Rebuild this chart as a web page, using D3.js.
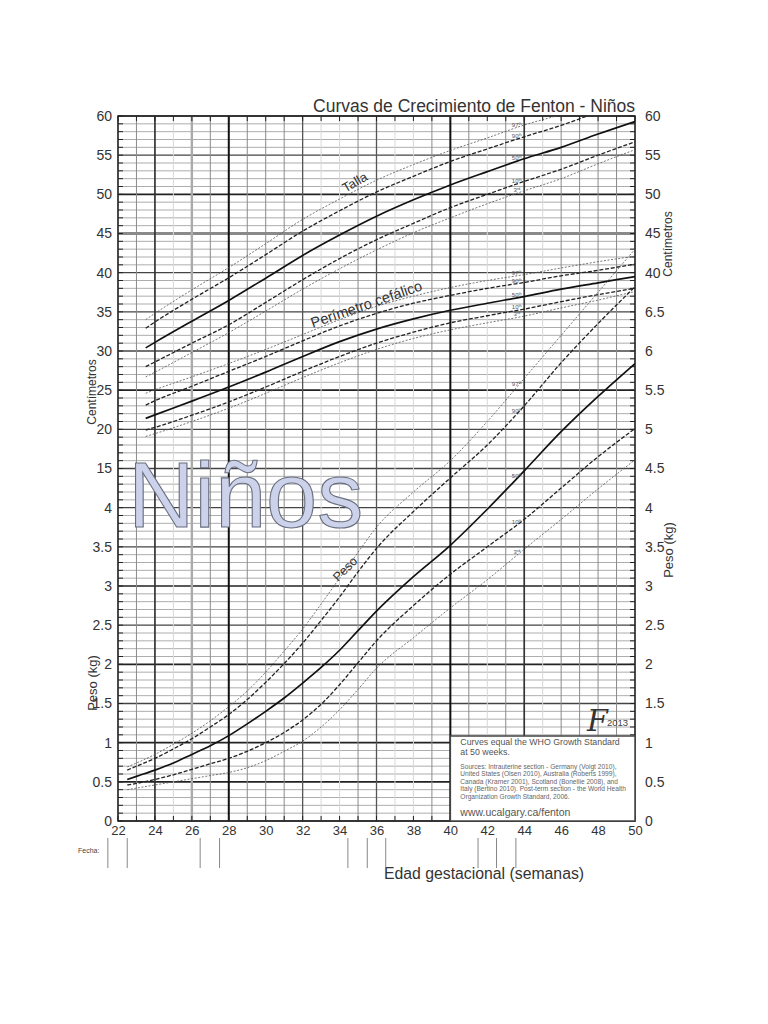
<!DOCTYPE html>
<html><head><meta charset="utf-8">
<script src="https://cdn.jsdelivr.net/npm/d3@7"></script>
<style>body{margin:0;background:#fff}svg{display:block;font-family:"Liberation Sans",Arial,sans-serif}</style>
</head><body><svg id="c" width="768" height="1024"></svg>
<script>
// ---------- DATA ----------
const weeksCm = [23.5,24,26,28,30,32,34,36,38,40,42,44,46,48,50];
const talla97 = [34.0,34.8,37.8,40.65,43.7,46.8,49.4,51.8,53.8,55.6,57.2,58.85,60.2,61.8,63.3];
const talla90 = [32.9,33.7,36.6,39.35,42.3,45.3,47.9,50.3,52.3,54.2,55.8,57.35,58.8,60.5,62.0];
const talla50 = [30.4,31.1,33.8,36.45,39.3,42.2,44.8,47.2,49.3,51.2,52.9,54.55,56.0,57.7,59.3];
const talla10 = [28.0,28.6,31.0,33.35,36.2,39.1,41.8,44.2,46.3,48.3,50.0,51.65,53.2,55.0,56.7];
const talla3  = [26.7,27.3,29.8,32.35,35.1,37.9,40.5,42.9,45.1,47.0,48.8,50.45,52.0,53.9,55.7];

const pc97 = [24.6,25.05,26.7,28.4,30.2,32.1,34.0,35.7,37.0,38.1,39.0,39.75,40.6,41.4,42.1];
const pc90 = [23.1,23.65,25.5,27.4,29.3,31.3,33.2,34.8,36.1,37.1,38.0,38.75,39.6,40.3,41.1];
const pc50 = [21.4,21.85,23.6,25.4,27.3,29.3,31.2,32.8,34.1,35.2,36.1,36.95,37.9,38.7,39.5];
const pc10 = [19.9,20.25,21.8,23.5,25.4,27.4,29.3,31.0,32.4,33.6,34.5,35.35,36.3,37.2,38.0];
const pc3  = [19.1,19.45,21.0,22.7,24.6,26.6,28.5,30.2,31.6,32.7,33.6,34.45,35.5,36.5,37.6];

const weeksKg = [22.5,23,24,25,26,27,28,29,30,31,32,33,34,35,36,38,40,42,44,46,48,50];
const peso97 = [0.69,0.74,0.85,0.98,1.12,1.28,1.46,1.66,1.90,2.17,2.45,2.77,3.10,3.43,3.75,4.20,4.60,5.10,5.65,6.20,6.75,7.30];
const peso90 = [0.65,0.70,0.80,0.92,1.05,1.20,1.36,1.55,1.77,2.01,2.27,2.56,2.86,3.18,3.48,3.95,4.38,4.80,5.30,5.85,6.35,6.82];
const peso50 = [0.53,0.57,0.65,0.74,0.85,0.96,1.09,1.24,1.40,1.57,1.76,1.96,2.18,2.43,2.68,3.12,3.52,3.98,4.47,4.97,5.42,5.84];
const peso10 = [0.46,0.48,0.53,0.59,0.66,0.73,0.80,0.89,1.00,1.13,1.29,1.49,1.74,2.02,2.30,2.75,3.15,3.50,3.85,4.25,4.65,5.01];
const peso3  = [0.40,0.42,0.46,0.50,0.54,0.58,0.62,0.68,0.77,0.89,1.02,1.20,1.42,1.68,1.95,2.34,2.72,3.08,3.47,3.85,4.24,4.61];

const percentiles = ["97","90","50","10","3"];
const xTicks = [22,24,26,28,30,32,34,36,38,40,42,44,46,48,50];
const cmTicksLeft = [60,55,50,45,40,35,30,25,20,15];
const kgTicksLeft = [4,3.5,3,2.5,2,1.5,1,0.5,0];
const cmTicksRight = [60,55,50,45,40];
const kgTicksRight = [6.5,6,5.5,5,4.5,4,3.5,3,2.5,2,1.5,1,0.5,0];
const fechaWeeks = [21.45,22.5,26.45,27.5,34.45,35.5,36.5,41.5,42.5,43.55];

// ---------- SCALES ----------
const svg = d3.select("#c");
const X0=118, X1=635, YT=116, YB=821;
const x = d3.scaleLinear().domain([22,50]).range([X0,X1]);
const yCm = d3.scaleLinear().domain([0,60]).range([586,YT]);
const yKg = d3.scaleLinear().domain([0,9]).range([YB,YT]);

svg.append("rect").attr("width",768).attr("height",1024).attr("fill","#fff");

// ---------- GRID ----------
const grid = svg.append("g");
d3.range(0,91).forEach(k=>{
  const yy = yKg(k/10);
  const major = k%5===0;
  let col = major ? "#444" : "#a4a4a4", w = major ? 1.3 : 0.9;
  if (k===75) { col="#8a8a8a"; w=3; }
  if (k===80 || k===55 || k===30 || k===20 || k===10 || k===5) { col="#222"; w=1.6; }
  grid.append("line").attr("x1",X0).attr("x2",X1).attr("y1",yy).attr("y2",yy)
    .attr("stroke",col).attr("stroke-width",w);
});
const faintWeeks=[25,33,34,37,38,42,45];
d3.range(22,51).forEach(wk=>{
  let col="#8a8a8a", w=1;
  if (faintWeeks.includes(wk)){col="#d8d8d8";}
  if (wk===28||wk===40){col="#111";w=2;}
  else if (wk===24||wk===44){col="#333";w=1.7;}
  else if (wk===26){col="#aaa";w=2.4;}
  else if (wk===36||wk===32){col="#555";w=1.3;}
  grid.append("line").attr("x1",x(wk)).attr("x2",x(wk)).attr("y1",YT).attr("y2",YB)
    .attr("stroke",col).attr("stroke-width",w);
});
// inner ticks
d3.range(0,91).forEach(k=>{
  const yy=yKg(k/10);
  grid.append("line").attr("x1",X0).attr("x2",X0+5).attr("y1",yy).attr("y2",yy).attr("stroke","#222").attr("stroke-width",1);
  grid.append("line").attr("x1",X1-5).attr("x2",X1).attr("y1",yy).attr("y2",yy).attr("stroke","#222").attr("stroke-width",1);
});
d3.range(22,51).forEach(wk=>{
  grid.append("line").attr("x1",x(wk)).attr("x2",x(wk)).attr("y1",YT).attr("y2",YT+5).attr("stroke","#222");
  grid.append("line").attr("x1",x(wk)).attr("x2",x(wk)).attr("y1",YB-5).attr("y2",YB).attr("stroke","#222");
});
svg.append("rect").attr("x",X0).attr("y",YT).attr("width",X1-X0).attr("height",YB-YT)
  .attr("fill","none").attr("stroke","#222").attr("stroke-width",1.5);

// ---------- "Niños" watermark ----------
svg.append("text").attr("x",128).attr("y",527).text("Niños")
  .attr("font-size",92).attr("fill","#cbd2ea").attr("stroke","#6a6f80").attr("stroke-width",1.1)
  .attr("font-family","Liberation Sans, Arial, sans-serif");

// ---------- CURVES ----------
svg.append("clipPath").attr("id","clip").append("rect")
  .attr("x",X0).attr("y",YT).attr("width",X1-X0).attr("height",YB-YT);
const curves = svg.append("g").attr("clip-path","url(#clip)");
const styles = {
  "97":{w:0.8,c:"#555",d:"2,1.6"},
  "90":{w:1.3,c:"#222",d:"4,1.8"},
  "50":{w:1.7,c:"#111",d:null},
  "10":{w:1.3,c:"#222",d:"4,1.8"},
  "3":{w:0.8,c:"#555",d:"2,1.6"}
};
function drawSet(weeks, sets, yS){
  sets.forEach((vals,i)=>{
    const p = percentiles[i], st=styles[p];
    const line = d3.line().x(d=>x(d[0])).y(d=>yS(d[1])).curve(d3.curveMonotoneX);
    curves.append("path").datum(weeks.map((w,j)=>[w,vals[j]]))
      .attr("d",line).attr("fill","none").attr("stroke",st.c).attr("stroke-width",st.w)
      .attr("stroke-dasharray",st.d);
  });
}
drawSet(weeksCm,[talla97,talla90,talla50,talla10,talla3],yCm);
drawSet(weeksCm,[pc97,pc90,pc50,pc10,pc3],yCm);
drawSet(weeksKg,[peso97,peso90,peso50,peso10,peso3],yKg);

function interp(weeks, vals, w){
  for(let i=0;i<weeks.length-1;i++){
    if(w>=weeks[i]&&w<=weeks[i+1]){const t=(w-weeks[i])/(weeks[i+1]-weeks[i]);return vals[i]+t*(vals[i+1]-vals[i]);}
  }
  return vals[vals.length-1];
}
function pLabels(weeks, sets, yS, wk){
  sets.forEach((vals,i)=>{
    const yy = yS(interp(weeks,vals,wk));
    const t = svg.append("text").attr("x",x(wk)).attr("y",yy-1).attr("font-size",6)
      .attr("fill","#555").attr("text-anchor","middle");
    t.append("tspan").text(percentiles[i]);
    t.append("tspan").text(percentiles[i]==="3"?"rd":"th").attr("font-size",4).attr("dy",-2);
  });
}
pLabels(weeksCm,[talla97,talla90,talla50,talla10,talla3],yCm,43.6);
pLabels(weeksCm,[pc97,pc90,pc50,pc10,pc3],yCm,43.6);
pLabels(weeksKg,[peso97,peso90,peso50,peso10,peso3],yKg,43.6);

// curve names
function rotLabel(txt,cx,cy,ang,fs){
  svg.append("text").attr("transform",`translate(${cx},${cy}) rotate(${ang})`)
    .attr("text-anchor","middle").attr("font-size",fs).attr("fill","#333").text(txt);
}
rotLabel("Talla",357,186,-30,13);
rotLabel("Perímetro cefálico",368,309,-19,14.5);
rotLabel("Peso",348,572,-45,12.5);

// ---------- AXES ----------
function styleAxis(g,fs){
  g.select(".domain").remove();
  g.selectAll("text").attr("font-size",fs).attr("fill","#333").attr("font-family","Liberation Sans, Arial, sans-serif");
}
svg.append("g").attr("transform",`translate(${X0},0)`)
  .call(d3.axisLeft(yCm).tickValues(cmTicksLeft).tickSize(0).tickPadding(6)).call(g=>styleAxis(g,14));
svg.append("g").attr("transform",`translate(${X0},0)`)
  .call(d3.axisLeft(yKg).tickValues(kgTicksLeft).tickSize(0).tickPadding(6).tickFormat(d3.format(""))).call(g=>styleAxis(g,14));
svg.append("g").attr("transform",`translate(${X1},0)`)
  .call(d3.axisRight(yCm).tickValues(cmTicksRight).tickSize(0).tickPadding(10)).call(g=>styleAxis(g,14));
svg.append("g").attr("transform",`translate(${X1},0)`)
  .call(d3.axisRight(yKg).tickValues(kgTicksRight).tickSize(0).tickPadding(10).tickFormat(d3.format(""))).call(g=>styleAxis(g,14));
svg.append("g").attr("transform",`translate(0,${YB})`)
  .call(d3.axisBottom(x).tickValues(xTicks).tickSize(0).tickPadding(5)).call(g=>styleAxis(g,13));

// axis titles
function vText(txt,cx,cy,fs){
  svg.append("text").attr("transform",`translate(${cx},${cy}) rotate(-90)`)
    .attr("text-anchor","middle").attr("font-size",fs).attr("fill","#333").text(txt);
}
vText("Centímetros",96,392,12);
vText("Peso (kg)",97,683,13);
vText("Centímetros",672,244,12);
vText("Peso (kg)",673,550,13);

svg.append("text").attr("x",X1).attr("y",112).attr("text-anchor","end").attr("font-size",17.5)
  .attr("fill","#333").text("Curvas de Crecimiento de Fenton - Niños");
svg.append("text").attr("x",484).attr("y",879).attr("text-anchor","middle").attr("font-size",15.8)
  .attr("fill","#333").text("Edad gestacional (semanas)");

// Fecha row
svg.append("text").attr("x",78).attr("y",853).attr("font-size",7).attr("fill","#444").text("Fecha:");
fechaWeeks.forEach(w=>{
  svg.append("line").attr("x1",x(w)).attr("x2",x(w)).attr("y1",838).attr("y2",868)
    .attr("stroke","#888").attr("stroke-width",1);
});

// info box
const bx=x(40), by=736;
svg.append("rect").attr("x",bx).attr("y",by).attr("width",X1-bx).attr("height",YB-by)
  .attr("fill","#fff").attr("stroke","#444").attr("stroke-width",1.5);
const info=["Curves equal the WHO Growth Standard","at 50 weeks."];
const src=["Sources: Intrauterine section - Germany (Voigt 2010),",
 "United States (Olsen 2010), Australia (Roberts 1999),",
 "Canada (Kramer 2001), Scotland (Bonellie 2008), and",
 "Italy (Bertino 2010). Post-term section - the World Health",
 "Organization Growth Standard, 2006."];
info.forEach((s,i)=>svg.append("text").attr("x",bx+10).attr("y",745+i*9.5).attr("font-size",8.8).attr("fill","#555").text(s));
src.forEach((s,i)=>svg.append("text").attr("x",bx+10).attr("y",768.5+i*7.6).attr("font-size",6.6).attr("fill","#666").text(s));
svg.append("text").attr("x",bx+10).attr("y",816).attr("font-size",10.5).attr("fill","#555").text("www.ucalgary.ca/fenton");

// logo
svg.append("text").attr("x",587).attr("y",731).attr("font-size",30).attr("font-style","italic")
  .attr("font-family","DejaVu Serif, serif").attr("fill","#333").text("F");
svg.append("text").attr("x",607).attr("y",726).attr("font-size",9.5).attr("fill","#444").text("2013");
</script></body></html>
